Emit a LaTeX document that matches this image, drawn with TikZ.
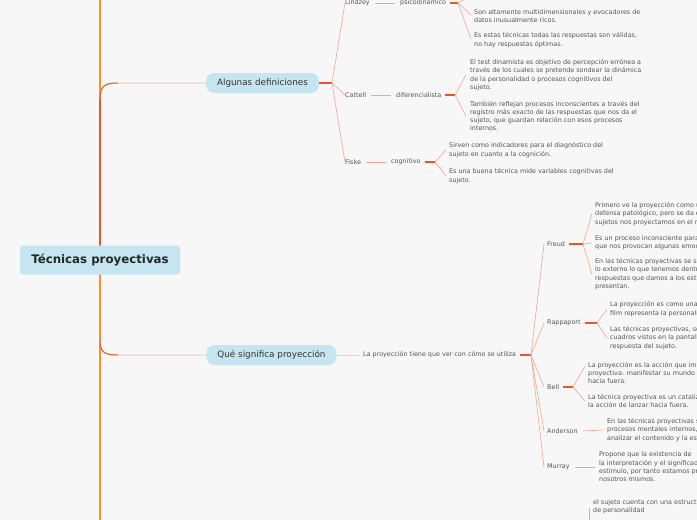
\documentclass[tikz,border=0pt]{standalone}
\usepackage{fontspec}
\setmainfont{DejaVu Sans}
\definecolor{bg}{HTML}{F7F7F7}
\definecolor{trunk}{HTML}{F7941D}
\definecolor{trunkr}{HTML}{E8572A}
\definecolor{pill}{HTML}{C5E5F0}
\definecolor{thin}{HTML}{F4A58A}
\definecolor{light}{HTML}{F8C9B8}
\definecolor{tx}{HTML}{555555}
\tikzset{
  txt/.style={font=\fontsize{6.4}{8.3}\selectfont, text=tx, inner sep=0pt, align=left, anchor=west},
  pillbox/.style={fill=pill, rounded corners=8pt, minimum height=20pt, inner xsep=11pt, font=\fontsize{8.8}{10}\selectfont, text=black!80},
  br/.style={draw=thin, line width=0.6pt},
  hub/.style={draw=trunkr, line width=1.2pt},
}
\begin{document}
\begin{tikzpicture}[x=1pt,y=-1pt]
\useasboundingbox (0,0) rectangle (697,520);
\clip (0,0) rectangle (697,520);
\fill[bg] (0,0) rectangle (697,520);
% trunk
\draw[trunk, line width=2.2pt] (100,0) -- (100,520);
\draw[trunkr, line width=2.2pt] (100,95) -- (100,245);
\node[fill=pill, rounded corners=3pt, minimum width=160pt, minimum height=29pt, font=\bfseries\fontsize{11.8}{13}\selectfont, text=black!85] (root) at (100,260) {Técnicas proyectivas};
% level 1
\node[pillbox] (alg) at (262.5,83) {Algunas definiciones};
\node[pillbox] (que) at (271.5,355) {Qué significa proyección};
\draw[light, line width=1pt] (100,100) .. controls (100,86) and (104,83) .. (118,83) -- (alg.west);
\draw[trunkr, line width=1pt] (100,100) .. controls (100,86) and (104,83) .. (118,83);
\draw[light, line width=1pt] (100,340) .. controls (100,352) and (104,355) .. (118,355) -- (que.west);
\draw[trunkr, line width=1pt] (100,340) .. controls (100,352) and (104,355) .. (118,355);
% Algunas definiciones subtree
\coordinate (ja) at (332,83);
\draw[hub] (alg.east) -- (ja);
\node[txt] (lin) at (345,3) {Lindzey};
\node[txt] (cat) at (345,95) {Cattell};
\node[txt] (fis) at (345,162) {Fiske};
\foreach \n in {lin,cat,fis} \draw[br] (ja) -- (\n.west);
\node[txt] (psi) at (400,3) {psicodinámico};
\node[txt] (dif) at (396,95) {diferencialista};
\node[txt] (cog) at (391,162) {cognitivo};
\draw[br] (lin.east)++(5,0) -- ([xshift=-5pt]psi.west);
\draw[br] (cat.east)++(5,0) -- ([xshift=-5pt]dif.west);
\draw[br] (fis.east)++(5,0) -- ([xshift=-5pt]cog.west);
% psicodinamico
\coordinate (jp) at (458,3);
\draw[hub] (psi.east)++(4,0) -- (jp);
\node[txt] (p1) at (474,16) {Son altamente multidimensionales y evocadores de\\datos inusualmente ricos.};
\node[txt] (p2) at (474,40) {Es estas técnicas todas las respuestas son válidas,\\ no hay respuestas óptimas.};
\draw[br] (jp) -- (471,-4);
\draw[br] (jp) -- (471,15);
\draw[br] (jp) -- (471,39);
% diferencialista
\coordinate (jd) at (455,95);
\draw[hub] (dif.east)++(4,0) -- (jd);
\node[txt] (d1) at (470,75) {El test dinamista es objetivo de percepción errónea a\\través de los cuales se pretende sondear la dinámica\\de la personalidad o procesos cognitivos del\\sujeto.};
\node[txt] (d2) at (470,116) {También reflejan procesos inconscientes a través del\\registro más exacto de las respuestas que nos da el\\sujeto, que guardan relación con esos procesos\\internos.};
\draw[br] (jd) -- (466,75);
\draw[br] (jd) -- (466,116);
% cognitivo
\coordinate (jc) at (435,162);
\draw[hub] (cog.east)++(4,0) -- (jc);
\node[txt] (c1) at (449,150) {Sirven como indicadores para el diagnóstico  del\\sujeto en cuanto a la cognición.};
\node[txt] (c2) at (449,176) {Es una buena técnica mide variables cognitivas del\\sujeto.};
\draw[br] (jc) -- (446,150);
\draw[br] (jc) -- (446,176);
% Que significa subtree
\node[txt] (lap) at (363,355) {La proyección tiene que ver con cómo se utiliza};
\draw[light, line width=1pt] (que.east) -- ([xshift=-4pt]lap.west);
\coordinate (jq) at (531,355);
\draw[hub] (lap.east)++(4,0) -- (jq);
\node[txt] (fre) at (547,244) {Freud};
\node[txt] (rap) at (547,323) {Rappaport};
\node[txt] (bel) at (547,387) {Bell};
\node[txt] (and) at (547,431) {Anderson};
\node[txt] (mur) at (547,467) {Murray};
\foreach \n in {fre,rap,bel,and,mur} \draw[br] (jq) -- ([xshift=-3pt]\n.west);
% Freud
\coordinate (jf) at (583,244);
\draw[hub] (fre.east)++(4,0) -- (jf);
\node[txt] (f1) at (595,214) {Primero ve la proyección como un mecanismo de\\defensa patológico, pero se da en todos los\\sujetos nos proyectamos en el mundo.};
\node[txt] (f2) at (595,243) {Es un proceso inconsciente para atribuir a otros\\que nos provocan algunas  emociones.};
\node[txt] (f3) at (595,274) {En las técnicas proyectivas se  sitúa en\\lo externo lo que tenemos dentro, en las\\respuestas que damos a los estímulos que se\\presentan.};
\draw[br] (jf) -- (592,214);
\draw[br] (jf) -- (592,243);
\draw[br] (jf) -- (592,274);
% Rappaport
\coordinate (jr) at (597,323);
\draw[hub] (rap.east)++(4,0) -- (jr);
\node[txt] (r1) at (610,309) {La proyección es como una película, el\\film representa la personalidad.};
\node[txt] (r2) at (610,338) {Las técnicas proyectivas, serían los\\cuadros vistos en la pantalla, la\\respuesta del sujeto.};
\draw[br] (jr) -- (607,309);
\draw[br] (jr) -- (607,338);
% Bell
\coordinate (jb) at (573,387);
\draw[hub] (bel.east)++(4,0) -- (jb);
\node[txt] (b1) at (588,373) {La proyección  es la acción que implica la técnica\\proyectiva: manifestar su mundo interior\\hacia fuera.};
\node[txt] (b2) at (588,401) {La técnica proyectiva es un catalizador de\\la acción de lanzar hacia fuera.};
\draw[br] (jb) -- (585,366);
\draw[br] (jb) -- (585,401);
% Anderson
\node[txt] (a1) at (607,430) {En las técnicas proyectivas se\\procesos mentales internos, para\\analizar el contenido y la estructura.};
\draw[br] (and.east)++(5,0) -- ([xshift=-4pt]a1.west);
% Murray
\node[txt] (m1) at (599,467) {Propone que la existencia de\\la interpretación y el significado del\\estímulo, por tanto estamos proyectando\\nosotros mismos.};
\draw[br] (mur.east)++(5,0) -- ([xshift=-4pt]m1.west);
% bottom
\node[txt] (e1) at (593,507) {el sujeto cuenta con una estructura\\de personalidad};
\draw[br] (589,508) -- (589,520);
\end{tikzpicture}
\end{document}
